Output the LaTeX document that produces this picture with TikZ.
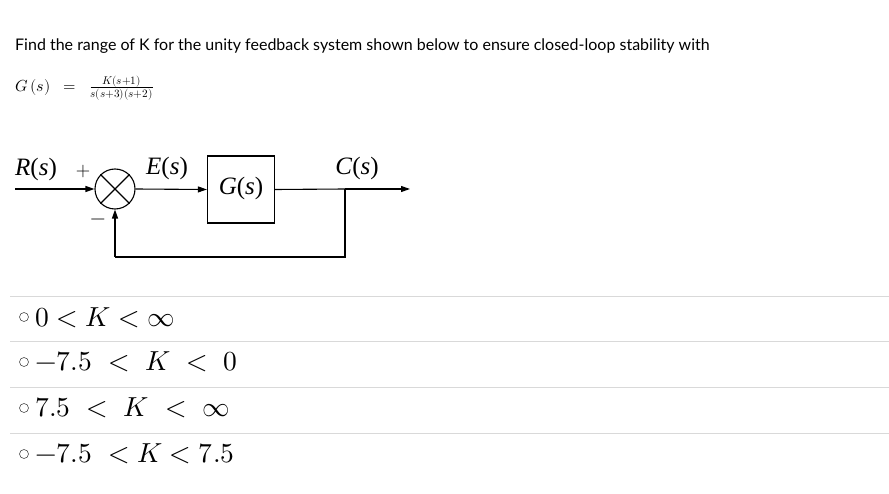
\documentclass[tikz,border=0pt]{standalone}
\usepackage{fontspec}
\usepackage{unicode-math}
\setmathfont{Latin Modern Math}
\usetikzlibrary{arrows.meta}
\newfontfamily\lato{Lato}
\newfontfamily\tms{Liberation Serif}
\begin{document}
\begin{tikzpicture}[x=1pt,y=-1pt,
  sig/.style={line width=1.1pt},
  arr/.style={sig,-{Triangle[length=9pt,width=6pt]}},
  lbl/.style={font=\tms\fontsize{25}{25}\selectfont, inner sep=0},
  rule/.style={draw=black!15, line width=0.6pt},
  opt/.style={anchor=west, inner sep=0, font=\fontsize{27.5}{27.5}\selectfont},
  radio/.style={circle, draw=black!70, line width=0.6pt, minimum size=9pt, inner sep=0}]
\useasboundingbox (0,0) rectangle (889,494);
\fill[white] (0,0) rectangle (889,494);
\node[anchor=west, inner sep=0, font=\lato\fontsize{16}{16}\selectfont] (title) at (15,46) {Find the range of K for the unity feedback system shown below to ensure closed-loop stability with};
\node[anchor=west, inner sep=0, font=\fontsize{16}{16}\selectfont] (geq) at (15,88) {$G\,(s)\;\;=\;\;\frac{K(s+1)}{s(s+3)(s+2)}$};
% block diagram
\coordinate (rin) at (15,189);
\node[circle, draw, line width=1.1pt, minimum size=40pt, inner sep=0] (sum) at (115,189) {};
\draw[line width=1.1pt] (sum.north west) -- (sum.south east) (sum.north east) -- (sum.south west);
\node[draw, line width=1.3pt, minimum width=67pt, minimum height=67pt, inner sep=0] (G) at (241,189.5) {};
\node[lbl] (Gl) at (241,188) {\textit{G}(\textit{s})};
\coordinate (br) at (345,189);
\coordinate (cout) at (410,189);
\coordinate (bot) at (345,257);
\coordinate (botl) at (115,257);
\draw[arr] (rin) -- (sum.west);
\draw[arr] (sum.east) -- (G.west);
\draw[sig] (G.east) -- (br);
\draw[arr] (br) -- (cout);
\draw[sig] (br) -- (bot) -- (botl);
\draw[arr] (botl) -- (sum.south);
\node[lbl] (R) at (36,169) {\textit{R}(\textit{s})};
\node[lbl] (E) at (167,168) {\textit{E}(\textit{s})};
\node[lbl] (C) at (357,168) {\textit{C}(\textit{s})};
\node[inner sep=0, font=\fontsize{20}{20}\selectfont] (plus) at (83,172) {+};
\node[inner sep=0, font=\fontsize{20}{20}\selectfont] (minus) at (98,222) {$-$};
% options
\draw[rule] (10,296) -- (889,296);
\draw[rule] (10,341) -- (889,341);
\draw[rule] (10,387) -- (889,387);
\draw[rule] (10,433) -- (889,433);
\node[radio] (r1) at (24,317) {};
\node[radio] (r2) at (24,362) {};
\node[radio] (r3) at (24,408) {};
\node[radio] (r4) at (24,454) {};
\node[opt] (o1) at (35,318) {$0<K<\infty$};
\node[opt] (o2) at (35,362) {$-7.5\ <\ K\ <\ 0$};
\node[opt] (o3) at (35,408) {$7.5\ <\ K\ <\ \infty$};
\node[opt] (o4) at (35,454) {$-7.5\ <K<7.5$};
\end{tikzpicture}
\end{document}
